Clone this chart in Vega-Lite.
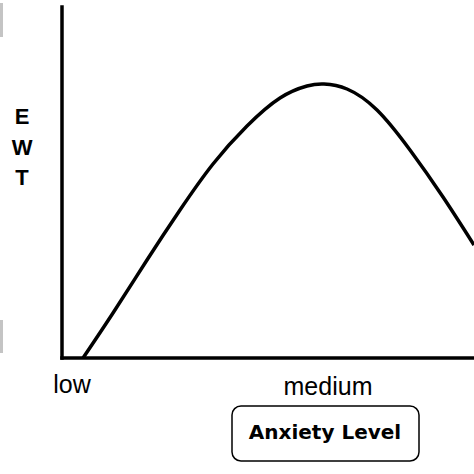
{
  "$schema": "https://vega.github.io/schema/vega-lite/v6.json",
  "width": 474,
  "height": 474,
  "autosize": {"type": "none"},
  "padding": 0,
  "background": "white",
  "config": {"view": {"stroke": null}},
  "datasets": {
    "curve": [
      {"anxiety": 21, "ewt": 0},
      {"anxiety": 51, "ewt": 45},
      {"anxiety": 85, "ewt": 98},
      {"anxiety": 118, "ewt": 148},
      {"anxiety": 151, "ewt": 194},
      {"anxiety": 185, "ewt": 232},
      {"anxiety": 218, "ewt": 260},
      {"anxiety": 245, "ewt": 272},
      {"anxiety": 262, "ewt": 274},
      {"anxiety": 285, "ewt": 269},
      {"anxiety": 315, "ewt": 248},
      {"anxiety": 348, "ewt": 208},
      {"anxiety": 381, "ewt": 161},
      {"anxiety": 412, "ewt": 113}
    ],
    "axes": [
      {"x": 0, "y": 0, "x2": 0, "y2": 351},
      {"x": 0, "y": 0, "x2": 414, "y2": 0}
    ],
    "ticks": [
      {"label": "low", "x": 10, "y": -35},
      {"label": "medium", "x": 266, "y": -37}
    ],
    "ylabel": [
      {"label": "E", "x": -40, "y": 241},
      {"label": "W", "x": -40, "y": 210},
      {"label": "T", "x": -40, "y": 180}
    ],
    "box": [{"x": 170, "x2": 357, "y": -48, "y2": -103, "label": "Anxiety Level", "cx": 263, "cy": -75}],
    "edges": [
      {"x": -62, "x2": -59, "y": 355, "y2": 321},
      {"x": -62, "x2": -59, "y": 38, "y2": 5}
    ]
  },
  "layer": [
    {
      "data": {"name": "edges"},
      "mark": {"type": "rect", "color": "#c4c4c4"},
      "encoding": {
        "x": {"field": "x", "type": "quantitative", "scale": {"domain": [-62, 412], "nice": false, "zero": false}, "axis": null},
        "x2": {"field": "x2"},
        "y": {"field": "y", "type": "quantitative", "scale": {"domain": [-116, 358], "nice": false, "zero": false}, "axis": null},
        "y2": {"field": "y2"}
      }
    },
    {
      "data": {"name": "axes"},
      "mark": {"type": "rule", "color": "black", "strokeWidth": 3.5, "strokeCap": "square", "clip": true},
      "encoding": {
        "x": {"field": "x", "type": "quantitative"},
        "x2": {"field": "x2"},
        "y": {"field": "y", "type": "quantitative"},
        "y2": {"field": "y2"}
      }
    },
    {
      "data": {"name": "curve"},
      "mark": {"type": "line", "color": "black", "strokeWidth": 3.5, "interpolate": "natural"},
      "encoding": {
        "x": {"field": "anxiety", "type": "quantitative"},
        "y": {"field": "ewt", "type": "quantitative"}
      }
    },
    {
      "data": {"name": "ticks"},
      "mark": {"type": "text", "font": "Liberation Sans", "fontSize": 25, "baseline": "alphabetic", "align": "center", "color": "black"},
      "encoding": {
        "x": {"field": "x", "type": "quantitative"},
        "y": {"field": "y", "type": "quantitative"},
        "text": {"field": "label"}
      }
    },
    {
      "data": {"name": "ylabel"},
      "mark": {"type": "text", "font": "Liberation Sans", "fontSize": 22, "fontWeight": "bold", "baseline": "middle", "align": "center", "color": "black"},
      "encoding": {
        "x": {"field": "x", "type": "quantitative"},
        "y": {"field": "y", "type": "quantitative"},
        "text": {"field": "label"}
      }
    },
    {
      "data": {"name": "box"},
      "mark": {"type": "rect", "fill": "white", "stroke": "black", "strokeWidth": 1.5, "cornerRadius": 9},
      "encoding": {
        "x": {"field": "x", "type": "quantitative"},
        "x2": {"field": "x2"},
        "y": {"field": "y", "type": "quantitative"},
        "y2": {"field": "y2"}
      }
    },
    {
      "data": {"name": "box"},
      "mark": {"type": "text", "font": "DejaVu Sans", "fontSize": 20, "fontWeight": "bold", "baseline": "middle", "align": "center", "color": "black"},
      "encoding": {
        "x": {"field": "cx", "type": "quantitative"},
        "y": {"field": "cy", "type": "quantitative"},
        "text": {"field": "label"}
      }
    }
  ]
}
